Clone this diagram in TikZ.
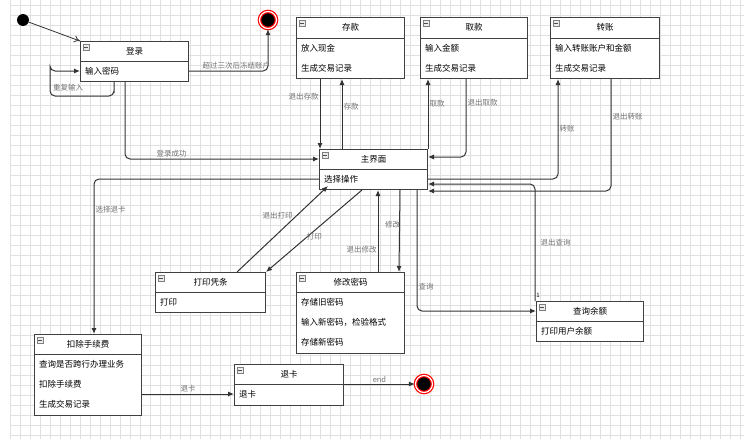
\documentclass[tikz,border=0pt]{standalone}
\usepackage{fontspec}
\setmainfont{Noto Sans CJK SC}
\usetikzlibrary{arrows.meta,calc}
\begin{document}
\begin{tikzpicture}[x=1pt,y=-1pt,
  st/.style={draw=black!75,line width=1pt,fill=white,anchor=north west,inner sep=0pt},
  ttl/.style={font=\fontsize{8.5}{9}\selectfont,inner sep=0pt},
  itm/.style={font=\fontsize{8.5}{9}\selectfont,inner sep=0pt,anchor=west},
  lbl/.style={font=\fontsize{7.5}{8}\selectfont,text=black!55,inner sep=1pt},
  a/.style={draw=black!80,line width=1pt,-{Latex[length=6pt,width=5pt]},rounded corners=5pt},
  fin/.style={circle,fill=black,draw=red,line width=1.2pt,double=white,double distance=1.2pt,minimum size=17pt,inner sep=0pt}]
\useasboundingbox (0,0) rectangle (744,439);
\fill[white] (0,0) rectangle (744,439);
\foreach \k in {1,...,74}{\draw[black!12,line width=0.3pt] (\k*10,0) -- (\k*10,439);}
\foreach \k in {0,...,43}{\draw[black!12,line width=0.3pt] (10,\k*10+5) -- (744,\k*10+5);}
\newcommand\mystate[8]{% name,x,y,w,h,title,divheight,items
  \node[st,minimum width=#4pt,minimum height=#5pt] (#1) at (#2,#3) {};
  \draw[black!75,line width=1pt] ($(#1.north west)+(0,#7)$) -- ($(#1.north east)+(0,#7)$);
  \draw[black!50,fill=black!8,line width=0.4pt] ($(#1.north west)+(3,3)$) rectangle ++(6,6);
  \draw[black!70,line width=0.5pt] ($(#1.north west)+(4.3,6)$) -- ++(3.4,0);
  \node[ttl] (#1-t) at ($(#1.north)+(0,{#7/2})$) {#6};
  \foreach \s [count=\i] in {#8}{\node[itm] (#1-i\i) at ($(#1.north west)+(5,{#7+10+(\i-1)*20})$) {\s};}
}
\mystate{login}{80}{41}{108}{40}{登录}{20}{输入密码}
\mystate{depo}{296}{17}{108}{61}{存款}{21}{放入现金,生成交易记录}
\mystate{draw}{420}{17}{107}{61}{取款}{21}{输入金额,生成交易记录}
\mystate{trans}{550}{17}{109}{61}{转账}{21}{输入转账账户和金额,生成交易记录}
\mystate{main}{319}{149}{108}{40}{主界面}{20}{选择操作}
\mystate{print}{155}{272}{110}{40}{打印凭条}{20}{打印}
\mystate{pwd}{296}{272}{108}{81}{修改密码}{20}{存储旧密码,输入新密码，检验格式,存储新密码}
\mystate{query}{536}{301}{107}{40}{查询余额}{20}{打印用户余额}
\mystate{fee}{34}{334}{107}{81}{扣除手续费}{20}{查询是否跨行办理业务,扣除手续费,生成交易记录}
\mystate{card}{234}{364}{109}{41}{退卡}{20}{退卡}
\node[circle,fill=black,minimum size=12pt,inner sep=0pt] (init) at (23,20) {};
\node[fin] (end1) at (268,20) {};
\node[fin] (end2) at (424,384) {};
\draw[black!80,line width=0.8pt,-{To[length=6pt,width=7pt]}] (init) -- (login.north west);
\draw[a] (login.east |- login-i1) -| node[lbl,pos=0.3,above]{超过三次后冻结账户} (end1.south);
\draw[a] ([xshift=34pt]login.south west) |- ++(0,14) -| ([xshift=-35pt]login-i1.west) |- (login.west |- login-i1);
\node[lbl] at (68,88) {重复输入};
\draw[a] ([xshift=45pt]login.south west) |- node[lbl,pos=0.62,above]{登录成功} (main.west |- main-t);
\draw[a] ([xshift=24pt]depo.south west) -- node[lbl,pos=0.25,left]{退出存款} ([xshift=24pt]depo.south west |- main.north);
\draw[a] ([xshift=46pt]depo.south west |- main.north) -- node[lbl,pos=0.6,right]{存款} ([xshift=46pt]depo.south west);
\draw[a] ([xshift=8pt]draw.south west |- main.north) -- node[lbl,pos=0.65,right]{取款} ([xshift=8pt]draw.south west);
\draw[a] ([xshift=46pt]draw.south west) |- node[lbl,pos=0.15,right]{退出取款} ([yshift=2pt]main.east |- main-t);
\draw[a] (main.east |- main-i1) -| node[lbl,pos=0.75,right]{转账} ([xshift=8pt]trans.south west);
\draw[a] ([xshift=61pt]trans.south west) |- node[lbl,pos=0.17,right]{退出转账} ([yshift=-1pt]main.south east);
\draw[a] ([xshift=-1pt]query.north west) |- node[lbl,pos=0.25,right=4pt]{退出查询} ([yshift=6pt]main.south east);
\node[font=\fontsize{6}{7}\selectfont,inner sep=0pt] (one) at ($(query.north west)+(2,-6)$) {1};
\draw[a] ([xshift=-11pt]main.south east) |- node[lbl,pos=0.4,right]{查询} (query.west |- query-t);
\draw[a] ([xshift=-28pt]main.south east) -- node[lbl,pos=0.42,left=-2pt]{修改} ([xshift=103pt]pwd.north west);
\draw[a] ([xshift=82pt]pwd.north west) -- node[lbl,pos=0.27,left]{退出修改} ([xshift=82pt]pwd.north west |- main.south);
\draw[a] ([xshift=43pt]main.south west) -- node[lbl,pos=0.57,right=-2pt]{打印} (print.north east);
\draw[a] ([xshift=82pt]print.north west) -- node[lbl,pos=0.65,left=2pt]{退出打印} ([xshift=9pt,yshift=4pt]main.south west);
\draw[a] (main.west |- main-i1) -| node[lbl,pos=0.6,right]{选择退卡} ([xshift=60pt]fee.north west);
\draw[a] (fee.east |- card-i1) -- node[lbl,above]{退卡} (card.west |- card-i1);
\draw[black!80,line width=1pt,-{Latex[length=6pt,width=5pt]}] (card.east |- end2) -- node[lbl,above]{end} (end2.west);
\end{tikzpicture}
\end{document}
